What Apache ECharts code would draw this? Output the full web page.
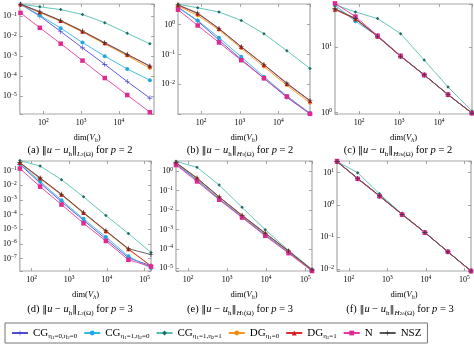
<!DOCTYPE html>
<html><head><meta charset="utf-8">
<script src="https://cdn.jsdelivr.net/npm/echarts@6/dist/echarts.min.js"></script>
<style>html,body{margin:0;padding:0;background:#fff}#c{width:474px;height:346px}</style>
</head><body><div id="c"></div>
<script>
// x values (dim V_h)
const xP2 = [25, 81, 289, 1089, 4225, 16641, 66049];
const xP3 = [49, 169, 625, 2401, 9409, 37249, 148225];
// (a) L2, p=2
const aCG00 = [0.39, 0.1, 0.017, 0.0026, 3.9e-4, 5.4e-5, 8.1e-6];
const aCG10 = [0.39, 0.11, 0.025, 0.0048, 0.001, 2.3e-4, 6.3e-5];
const aCG11 = [0.39, 0.29, 0.21, 0.12, 0.047, 0.014, 0.0041];
const aDG0  = [0.38, 0.15, 0.054, 0.016, 0.0041, 0.00105, 2.5e-4];
const aDG1  = [0.39, 0.16, 0.059, 0.017, 0.0045, 0.0012, 3.2e-4];
const aN    = [0.145, 0.026, 0.0042, 6.0e-4, 8.1e-5, 1.15e-5, 1.6e-6];
const aNSZ  = [0.39, 0.165, 0.06, 0.018, 0.0047, 0.00122, 3.2e-4];
// (b) H1, p=2
const bCG00 = [3.8, 1.3, 0.3, 0.068, 0.016, 0.0037, 0.00104];
const bCG10 = [3.6, 1.36, 0.36, 0.083, 0.018, 0.0041, 0.0011];
const bCG11 = [4.7, 3.6, 2.6, 1.36, 0.49, 0.133, 0.034];
const bDG0  = [4.1, 2.0, 0.66, 0.16, 0.039, 0.0093, 0.0024];
const bDG1  = [4.4, 2.3, 0.72, 0.18, 0.045, 0.0105, 0.0028];
const bN    = [3.1, 0.92, 0.25, 0.064, 0.016, 0.0039, 0.00105];
const bNSZ  = [4.5, 2.4, 0.73, 0.18, 0.046, 0.011, 0.0029];
// (c) H2_h, p=2
const cCG00 = [38, 27, 14.5, 7.2, 3.74, 1.87, 0.98];
const cCG10 = [43, 24.6, 14.6, 7.25, 3.74, 1.87, 0.98];
const cCG11 = [44, 34, 27, 15.9, 6.3, 2.45, 1.05];
const cDG0  = [38, 27, 14.5, 7.2, 3.74, 1.87, 0.98];
const cDG1  = [37, 26.5, 14.4, 7.2, 3.74, 1.87, 0.98];
const cN    = [46, 29, 14.8, 7.3, 3.75, 1.88, 0.98];
const cNSZ  = [38, 27, 14.5, 7.2, 3.74, 1.87, 0.98];
// (d) L2, p=3
const dCG00 = [0.26, 0.0138, 7.4e-4, 4e-5, 2.1e-6, 1.1e-7, 3.2e-8];
const dCG10 = [0.28, 0.018, 9.3e-4, 5e-5, 2.95e-6, 1.4e-7, 2.2e-8];
const dCG11 = [0.47, 0.2, 0.0235, 1.6e-3, 8.5e-5, 5e-6, 2.6e-7];
const dDG0  = [0.32, 0.027, 2.1e-3, 1.2e-4, 7e-6, 4.2e-7, 3.0e-8];
const dDG1  = [0.34, 0.030, 2.3e-3, 1.3e-4, 7.6e-6, 4.5e-7, 3.1e-8];
const dN    = [0.135, 0.0079, 4.7e-4, 2.5e-5, 1.55e-6, 8.1e-8, 2.8e-8];
const dNSZ  = [0.34, 0.031, 2.4e-3, 1.35e-4, 7.8e-6, 4.6e-7, 1.85e-7];
// (e) H1, p=3
const eCG00 = [2.4, 0.35, 0.037, 4.5e-3, 5.2e-4, 6.5e-5, 7.9e-6];
const eCG10 = [2.45, 0.36, 0.038, 4.6e-3, 5.3e-4, 6.6e-5, 8.0e-6];
const eCG11 = [3.3, 1.6, 0.195, 0.0138, 9.8e-4, 8.3e-5, 8.9e-6];
const eDG0  = [2.7, 0.42, 0.045, 5.1e-3, 6.2e-4, 7.5e-5, 7.9e-6];
const eDG1  = [2.8, 0.44, 0.047, 5.3e-3, 6.4e-4, 7.7e-5, 8.1e-6];
const eN    = [2.1, 0.3, 0.034, 4.1e-3, 4.7e-4, 6.0e-5, 7.2e-6];
const eNSZ  = [2.8, 0.45, 0.048, 5.4e-3, 6.5e-4, 7.8e-5, 8.2e-6];
// (f) H2_h, p=3
const fCG00 = [22, 6.6, 1.9, 0.51, 0.14, 0.035, 0.0089];
const fCG10 = [22, 6.5, 1.9, 0.51, 0.14, 0.035, 0.0089];
const fCG11 = [22, 10, 2.2, 0.52, 0.14, 0.035, 0.0089];
const fDG0  = [22, 6.6, 1.9, 0.51, 0.14, 0.035, 0.0089];
const fDG1  = [22, 6.7, 1.92, 0.51, 0.14, 0.035, 0.0089];
const fN    = [23, 6.4, 1.85, 0.5, 0.138, 0.035, 0.0089];
const fNSZ  = [22, 6.6, 1.9, 0.51, 0.14, 0.035, 0.0089];

const seriesKeys = ['CG00', 'CG10', 'CG11', 'DG0', 'DG1', 'N', 'NSZ'];
const legendLabels = {
  CG00: 'CG{s|η}{ss|1}{s|=0,η}{ss|2}{s|=0}',
  CG10: 'CG{s|η}{ss|1}{s|=1,η}{ss|2}{s|=0}',
  CG11: 'CG{s|η}{ss|1}{s|=1,η}{ss|2}{s|=1}',
  DG0: 'DG{s|η}{ss|1}{s|=0}',
  DG1: 'DG{s|η}{ss|1}{s|=1}',
  N: 'N',
  NSZ: 'NSZ'
};
const captions = [
  '(a) {n|‖}{i|u} − {i|u}{s|h}{n|‖}{si|L}{sp|2}{s|(Ω)} for {i|p} = 2',
  '(b) {n|‖}{i|u} − {i|u}{s|h}{n|‖}{si|H}{sp|1}{s|(Ω)} for {i|p} = 2',
  '(c) {n|‖}{i|u} − {i|u}{s|h}{n|‖}{si|H}{sp|2}{sb|h}{s|(Ω)} for {i|p} = 2',
  '(d) {n|‖}{i|u} − {i|u}{s|h}{n|‖}{si|L}{sp|2}{s|(Ω)} for {i|p} = 3',
  '(e) {n|‖}{i|u} − {i|u}{s|h}{n|‖}{si|H}{sp|1}{s|(Ω)} for {i|p} = 3',
  '(f) {n|‖}{i|u} − {i|u}{s|h}{n|‖}{si|H}{sp|2}{sb|h}{s|(Ω)} for {i|p} = 3'
];

const SERIF = 'Liberation Serif, DejaVu Serif, serif';
const plusPath = 'path://M3.5,0h1v8h-1z M0,3.5h8v1h-8z';
const styles = {
  CG00: {color: '#4c4cd4', symbol: plusPath, size: 5, mc: '#4040cc'},
  CG10: {color: '#35b6e8', symbol: 'circle', size: 4, mc: '#22a8e0'},
  CG11: {color: '#55bfb2', symbol: 'diamond', size: 3.5, mc: '#1f6d66'},
  DG0:  {color: '#f7961e', symbol: 'circle', size: 3.5, mc: '#f08a10'},
  DG1:  {color: '#de2b2b', symbol: 'triangle', size: 4.5, mc: '#cf1f1f'},
  N:    {color: '#e8389e', symbol: 'rect', size: 4.5, mc: '#e02a92'},
  NSZ:  {color: '#555555', symbol: plusPath, size: 5, mc: '#303030'}
};

const panels = [
  {x: xP2, grid: {left: 16, top: 4, width: 138, height: 110}, xr: [24, 85000], yr: [1.3e-6, 0.4],
   d: [aCG00, aCG10, aCG11, aDG0, aDG1, aN, aNSZ], cap: [80, 150]},
  {x: xP2, grid: {left: 178, top: 4, width: 132, height: 110}, xr: [25, 66049], yr: [1.03e-3, 4.8],
   d: [bCG00, bCG10, bCG11, bDG0, bDG1, bN, bNSZ], cap: [240, 150]},
  {x: xP2, grid: {left: 335, top: 4, width: 137, height: 110}, xr: [25, 66049], yr: [0.95, 45],
   d: [cCG00, cCG10, cCG11, cDG0, cDG1, cN, cNSZ], cap: [398, 150]},
  {x: xP3, grid: {left: 17, top: 161, width: 134, height: 110}, xr: [49, 148225], yr: [1.4e-8, 0.44],
   d: [dCG00, dCG10, dCG11, dDG0, dDG1, dN, dNSZ], cap: [80, 309]},
  {x: xP3, grid: {left: 176, top: 161, width: 136, height: 110}, xr: [49, 148225], yr: [7.2e-6, 3.4],
   d: [eCG00, eCG10, eCG11, eDG0, eDG1, eN, eNSZ], cap: [240, 309]},
  {x: xP3, grid: {left: 337, top: 161, width: 135, height: 110}, xr: [49, 148225], yr: [0.0089, 23],
   d: [fCG00, fCG10, fCG11, fDG0, fDG1, fN, fNSZ], cap: [400, 309]}
];

function powLabel(v) {
  const l = Math.log10(v);
  const n = Math.round(l);
  if (Math.abs(l - n) > 1e-6) return '';
  return '10{sup|' + (n < 0 ? '−' + (-n) : n) + '}';
}
const tickRich = {sup: {fontSize: 5.5, lineHeight: 5, verticalAlign: 'top', fontFamily: SERIF, color: '#000'}};

const grids = [], xAxes = [], yAxes = [], series = [], graphics = [];
panels.forEach((p, i) => {
  grids.push(Object.assign({show: true, borderColor: '#a8a8a8', borderWidth: 1.2, backgroundColor: '#fff'}, p.grid));
  const common = {type: 'log', gridIndex: i, splitLine: {show: false}, axisLine: {show: false},
    axisTick: {show: true, inside: true, length: 3, lineStyle: {color: '#909090', width: 0.8}}};
  xAxes.push(Object.assign({}, common, {min: p.xr[0], max: p.xr[1], position: 'bottom',
    axisLabel: {formatter: powLabel, margin: 4, fontSize: 8, lineHeight: 10, fontFamily: SERIF, color: '#000', rich: tickRich, showMinLabel: false, showMaxLabel: i >= 3},
    name: 'dim({i|V}{s|h})', nameLocation: 'middle', nameGap: 18,
    nameTextStyle: {fontSize: 8.5, fontFamily: SERIF, color: '#000', lineHeight: 11,
      rich: {i: {fontStyle: 'italic', fontSize: 8.5, fontFamily: SERIF}, s: {fontStyle: 'italic', fontSize: 6, lineHeight: 6, verticalAlign: 'bottom', fontFamily: SERIF}}}}));
  xAxes.push(Object.assign({}, common, {min: p.xr[0], max: p.xr[1], position: 'top', axisLabel: {show: false}}));
  yAxes.push(Object.assign({}, common, {min: p.yr[0], max: p.yr[1], position: 'left',
    axisLabel: {formatter: powLabel, margin: 3, fontSize: 8, lineHeight: 10, fontFamily: SERIF, color: '#000', rich: tickRich, showMinLabel: true, showMaxLabel: true}}));
  yAxes.push(Object.assign({}, common, {min: p.yr[0], max: p.yr[1], position: 'right', axisLabel: {show: false}}));
  seriesKeys.forEach((k, j) => {
    const st = styles[k];
    series.push({
      name: k, type: 'line', xAxisIndex: 2 * i, yAxisIndex: 2 * i,
      data: p.x.map((xv, m) => [xv, p.d[j][m]]),
      symbol: st.symbol, symbolSize: st.size, showSymbol: true, clip: false,
      lineStyle: {color: st.color, width: 0.9}, itemStyle: {color: st.mc},
      animation: false, silent: true
    });
  });
  graphics.push({
    type: 'text', x: p.cap[0], y: p.cap[1],
    style: {text: captions[i], fontSize: 10.5, fontFamily: SERIF, fill: '#000', align: 'center', verticalAlign: 'middle', lineHeight: 15,
      rich: {
        n: {fontSize: 10, fontFamily: 'DejaVu Serif'},
        i: {fontStyle: 'italic', fontSize: 10.5, fontFamily: SERIF},
        s: {fontSize: 7, lineHeight: 8, verticalAlign: 'bottom', fontFamily: SERIF},
        si: {fontStyle: 'italic', fontSize: 7, lineHeight: 8, verticalAlign: 'bottom', fontFamily: SERIF},
        sp: {fontSize: 5, lineHeight: 13, verticalAlign: 'bottom', fontFamily: SERIF},
        sb: {fontStyle: 'italic', fontSize: 5, lineHeight: 4, verticalAlign: 'bottom', fontFamily: SERIF}
      }}
  });
});

const chart = echarts.init(document.getElementById('c'), null, {renderer: 'canvas'});
chart.setOption({
  animation: false,
  grid: grids, xAxis: xAxes, yAxis: yAxes, series: series, graphic: graphics,
  legend: {
    data: seriesKeys, left: 5, top: 323, width: 464, orient: 'horizontal',
    borderColor: '#777', borderWidth: 1, padding: [3, 6, 3, 6], itemGap: 6, itemWidth: 16, itemHeight: 6,
    formatter: (n) => legendLabels[n],
    textStyle: {fontSize: 11, fontFamily: SERIF, color: '#000', lineHeight: 14,
      rich: {
        s: {fontSize: 7, lineHeight: 8, verticalAlign: 'bottom', fontFamily: SERIF},
        ss: {fontSize: 5, lineHeight: 4, verticalAlign: 'bottom', fontFamily: SERIF}
      }}
  }
});
</script></body></html>
